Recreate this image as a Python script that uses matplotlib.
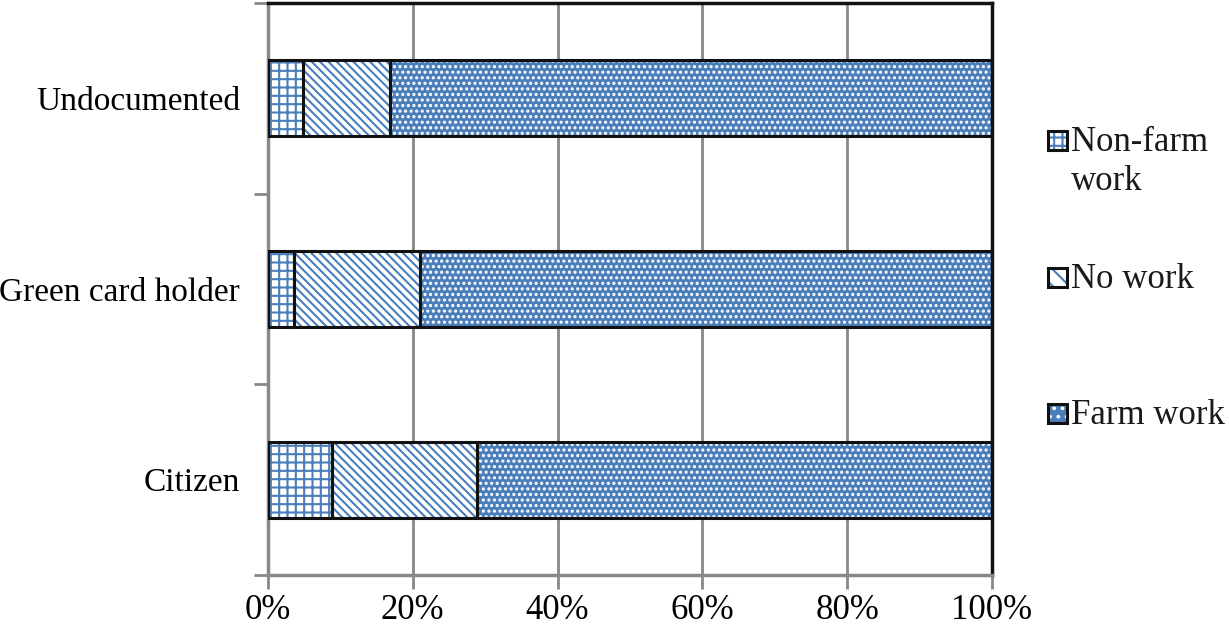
import matplotlib.pyplot as plt
from matplotlib.patches import Rectangle

# data
categories = ["Citizen", "Green card holder", "Undocumented"]
non_farm = [8.8, 3.6, 4.8]
no_work = [20.0, 17.4, 12.0]
farm = [71.2, 79.0, 83.2]
series_names = ["Non-farm\nwork", "No work", "Farm work"]

plt.rcParams['font.family'] = ['Liberation Serif', 'DejaVu Serif']
plt.rcParams['hatch.linewidth'] = 1.5

blue = "#4a7ebb"
W, H = 1229, 625
fig = plt.figure(figsize=(W / 100, H / 100), dpi=100)
ax = fig.add_axes([268 / W, 50 / H, 724 / W, 572 / H])

ypos = list(range(len(categories)))
h = 0.40
styles = [
    dict(color="white", edgecolor=blue, hatch="++"),
    dict(color="white", edgecolor=blue, hatch="\\\\\\\\"),
    dict(color=blue, edgecolor="white", hatch="..."),
]
left = [0, 0, 0]
for vals, st in zip([non_farm, no_work, farm], styles):
    ax.barh(ypos, vals, h, left=left, color=st["color"], edgecolor=st["edgecolor"],
            hatch=st["hatch"], linewidth=0, zorder=2)
    ax.barh(ypos, vals, h, left=left, color="none", edgecolor="#111111",
            linewidth=2.2, zorder=3)
    left = [a + b for a, b in zip(left, vals)]

ax.set_xlim(0, 100)
ax.set_ylim(-0.5, 2.5)
ax.set_xticks(range(0, 101, 20))
ax.set_xticklabels([f"{v}%" for v in range(0, 101, 20)], fontsize=25)
ax.set_yticks(ypos)
ax.set_yticklabels(categories, fontsize=24)
ax.set_yticks([-0.5, 0.5, 1.5, 2.5], minor=True)
ax.tick_params(axis="y", which="major", length=0, pad=20)
ax.tick_params(axis="y", which="minor", length=10, width=2, color="#888888")
ax.tick_params(axis="x", length=10, width=2, color="#888888", pad=4)
ax.grid(axis="x", color="#888888", linewidth=2, zorder=0)
ax.set_axisbelow(True)
for s in ["left", "bottom"]:
    ax.spines[s].set_color("#888888")
    ax.spines[s].set_linewidth(2.5)
for s in ["top", "right"]:
    ax.spines[s].set_color("#111111")
    ax.spines[s].set_linewidth(2.5)

# legend drawn by hand so the handle sits on the first text line
leg_y = [140, 277, 413]
for name, st, yc in zip(series_names, styles, leg_y):
    fig.patches.append(Rectangle((1048 / W, 1 - (yc + 10) / H), 19 / W, 19 / H,
                                 transform=fig.transFigure, facecolor=st["color"],
                                 edgecolor=st["edgecolor"], hatch=st["hatch"][:2],
                                 linewidth=0))
    fig.patches.append(Rectangle((1048 / W, 1 - (yc + 10) / H), 19 / W, 19 / H,
                                 transform=fig.transFigure, facecolor="none",
                                 edgecolor="#111111", linewidth=2.2))
    for i, line in enumerate(name.split("\n")):
        fig.text(1071 / W, 1 - (yc + 2 + 40 * i) / H, line, fontsize=25,
                 va="center", ha="left", color="#1a1a1a")

fig.savefig("out.png", dpi=100)
